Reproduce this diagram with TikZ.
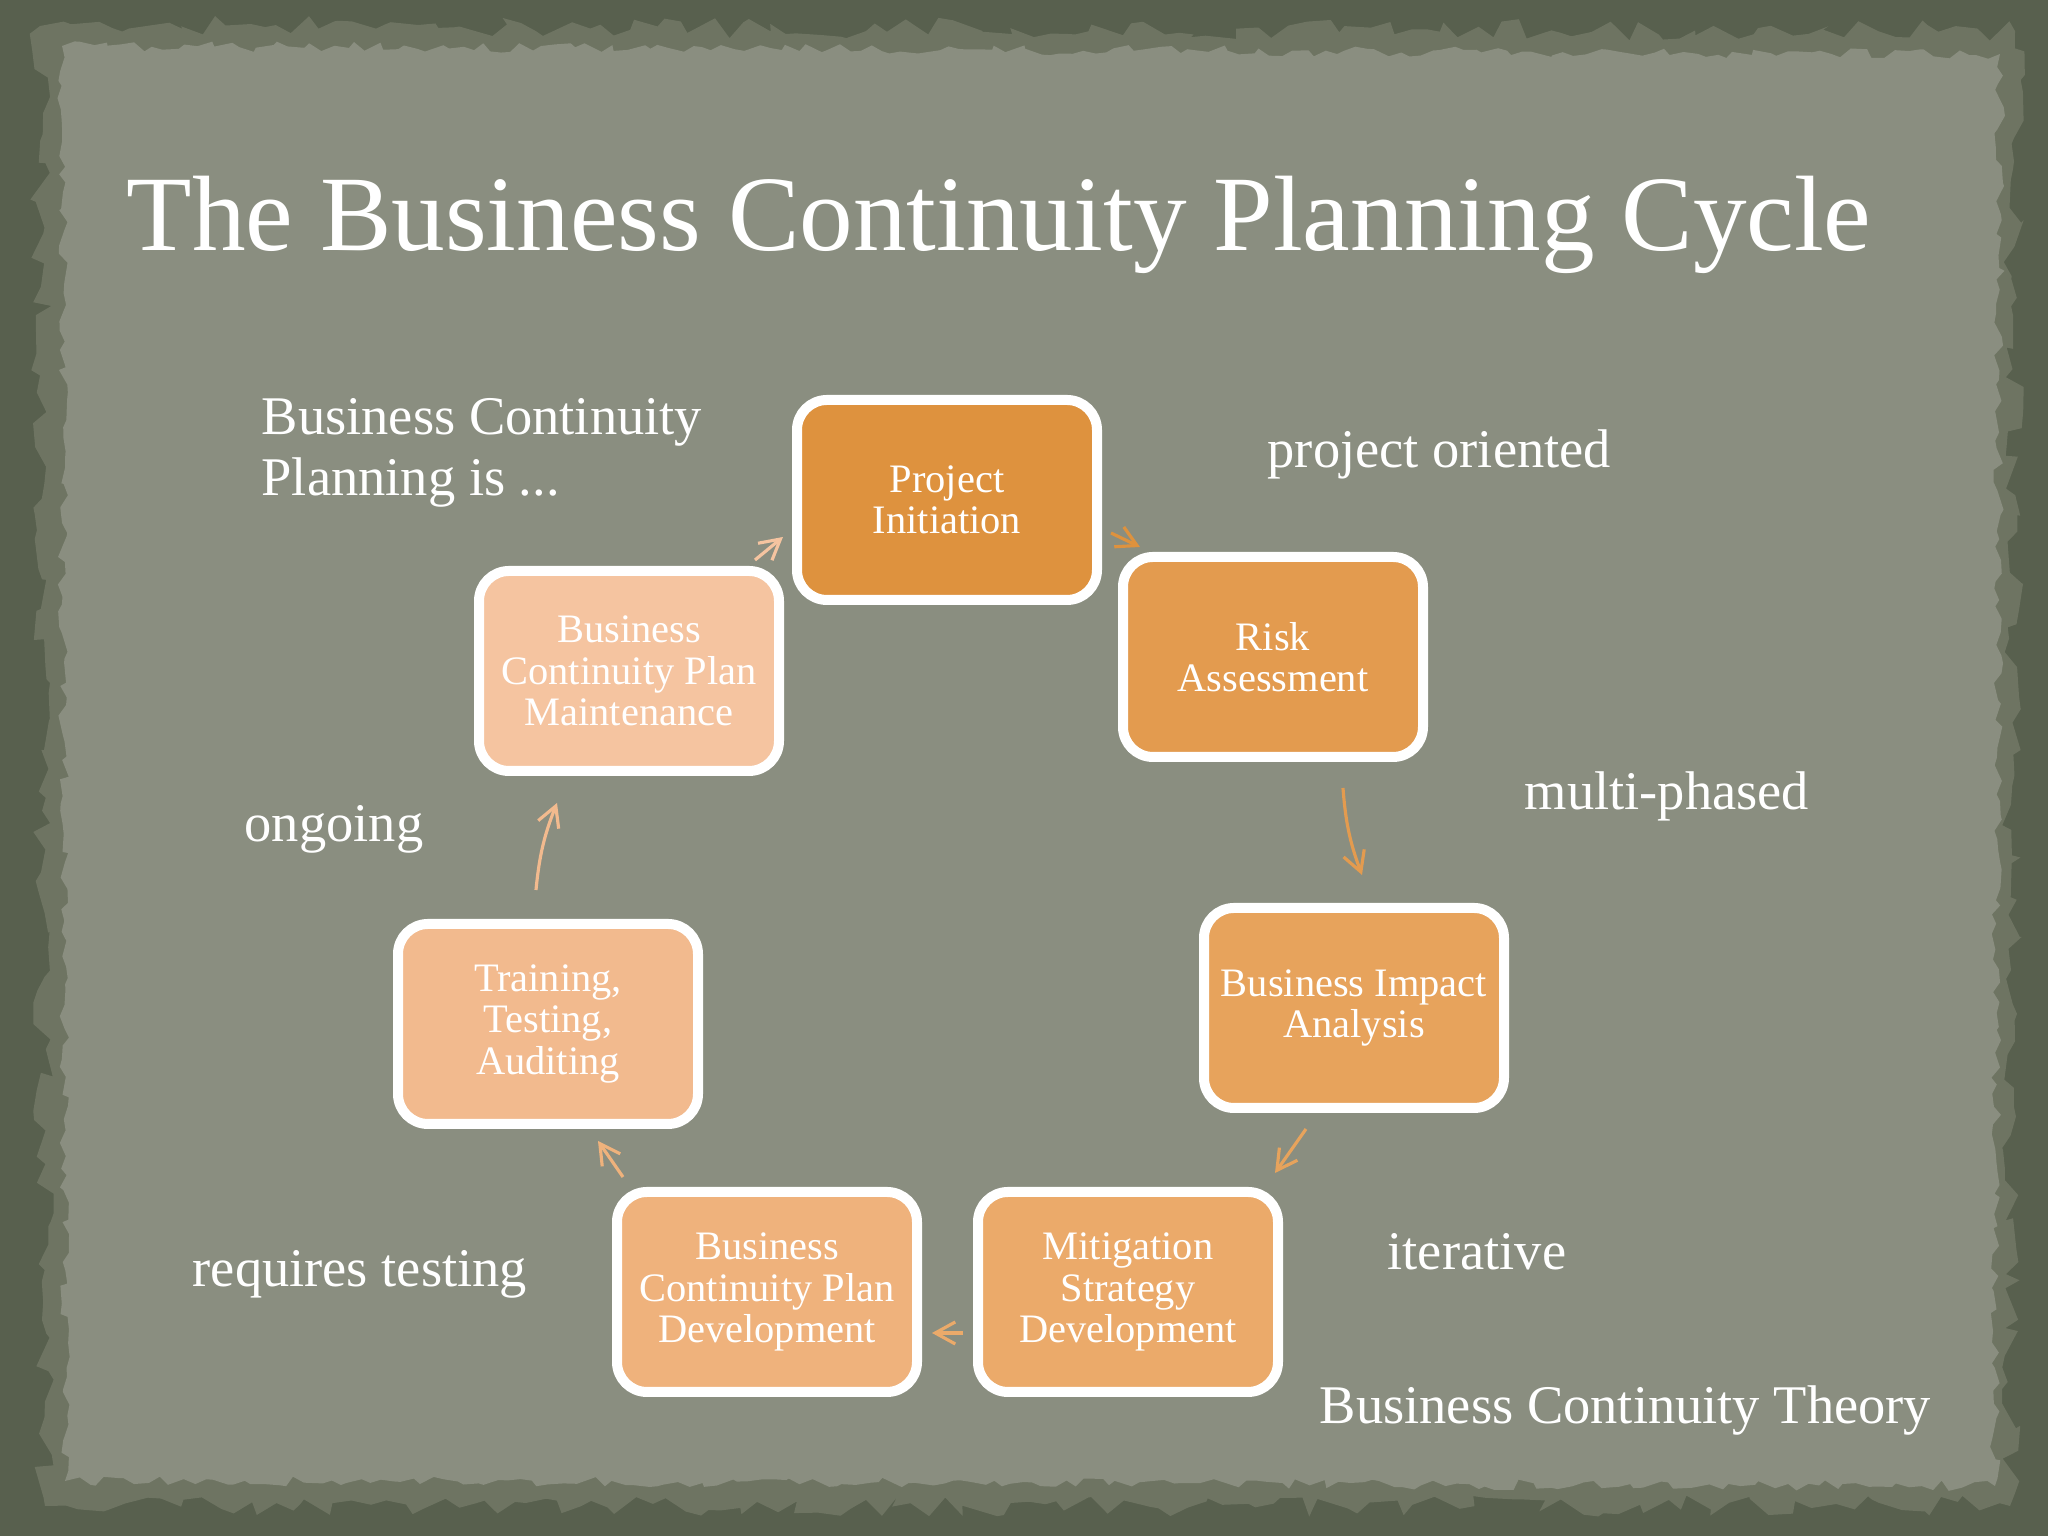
\documentclass[tikz,border=0pt]{standalone}
\usepackage{fontspec}
\setmainfont{Liberation Serif}
\usetikzlibrary{arrows.meta}
\usetikzlibrary{decorations.pathmorphing}
\definecolor{rim}{RGB}{88,96,78}
\definecolor{rimlight}{RGB}{110,116,98}
\definecolor{paper}{RGB}{138,142,128}
\definecolor{stepA}{RGB}{222,146,62}
\definecolor{stepB}{RGB}{227,155,79}
\definecolor{stepC}{RGB}{231,163,92}
\definecolor{stepD}{RGB}{235,170,106}
\definecolor{stepE}{RGB}{239,178,124}
\definecolor{stepF}{RGB}{242,186,142}
\definecolor{stepG}{RGB}{245,196,160}
\tikzset{
  phase/.style={draw=white, line width=0.1cm, rounded corners=0.3cm,
    minimum width=3cm, minimum height=2cm, inner sep=0pt, align=center,
    text=white, font=\fontsize{11.5}{11.8}\selectfont},
  flow/.style={-{Straight Barb[length=2mm,width=2.2mm]}, line width=0.9pt},
  remark/.style={anchor=base west, inner sep=0pt, align=left, text=white,
    font=\fontsize{15.5}{17.4}\selectfont},
}

\begin{document}
\begin{tikzpicture}
  \useasboundingbox (0,0) rectangle (20.48,15.36);
  \pgfmathsetseed{11}

  % torn paper
  \fill [rim] (0,0) rectangle (20.48,15.36);
  \fill [rimlight, decorate, decoration={random steps, segment length=4pt, amplitude=3pt}]
    (0.45,0.3) -- (20.1,0.3) -- (20.15,15.05) -- (0.4,15.1) -- cycle;
  \fill [paper, decorate, decoration={random steps, segment length=3pt, amplitude=1.5pt}]
    (0.65,0.55) -- (19.95,0.5) -- (20.0,14.82) -- (0.62,14.9) -- cycle;

  \node [anchor=base, inner sep=0pt, text=white, font=\fontsize{30.5}{36}\selectfont]
    (title) at (9.99,12.85) {The Business Continuity Planning Cycle};

  \node [phase, fill=stepA] (proj)   at (9.47,10.36) {Project\\Initiation};
  \node [phase, fill=stepB] (risk)   at (12.73,8.79) {Risk\\Assessment};
  \node [phase, fill=stepC] (bia)    at (13.54,5.28) {Business Impact\\Analysis};
  \node [phase, fill=stepD] (mitig)  at (11.28,2.44) {Mitigation\\Strategy\\Development};
  \node [phase, fill=stepE] (bcpdev) at (7.67,2.44)  {Business\\Continuity Plan\\Development};
  \node [phase, fill=stepF] (train)  at (5.48,5.12)  {Training,\\Testing,\\Auditing};
  \node [phase, fill=stepG] (maint)  at (6.29,8.65)  {Business\\Continuity Plan\\Maintenance};

  \draw [flow, stepG] ([shift={(-0.29,0.06)}]maint.north east) -- ([shift={(-0.09,-0.37)}]proj.west);
  \draw [flow, stepA] ([shift={(0.09,-0.33)}]proj.east) -- ([shift={(0.22,0.05)}]risk.north west);
  \draw [flow, stepB] ([shift={(0.70,-0.26)}]risk.south) to [bend right=8] ([shift={(0.08,0.28)}]bia.north);
  \draw [flow, stepC] ([shift={(-0.48,-0.16)}]bia.south) -- ([shift={(-0.08,0.14)}]mitig.north east);
  \draw [flow, stepD] ([shift={(-0.10,-0.41)}]mitig.west) -- ([shift={(0.10,-0.41)}]bcpdev.east);
  \draw [flow, stepE] ([shift={(0.11,0.10)}]bcpdev.north west) -- ([shift={(0.50,-0.12)}]train.south);
  \draw [flow, stepF] ([shift={(-0.12,0.29)}]train.north) to [bend left=8] ([shift={(-0.72,-0.27)}]maint.south);

  \node [remark] (intro)   at (2.61,10.40) {Business Continuity\\Planning is ...};
  \node [remark] (oriented) at (12.67,10.68) {project oriented};
  \node [remark] (phased)  at (15.24,7.26) {multi-phased};
  \node [remark] (ongoing) at (2.44,6.94)  {ongoing};
  \node [remark] (iter)    at (13.87,2.66) {iterative};
  \node [remark] (testing) at (1.92,2.49)  {requires testing};
  \node [remark] (theory)  at (13.19,1.12) {Business Continuity Theory};
\end{tikzpicture}
\end{document}
